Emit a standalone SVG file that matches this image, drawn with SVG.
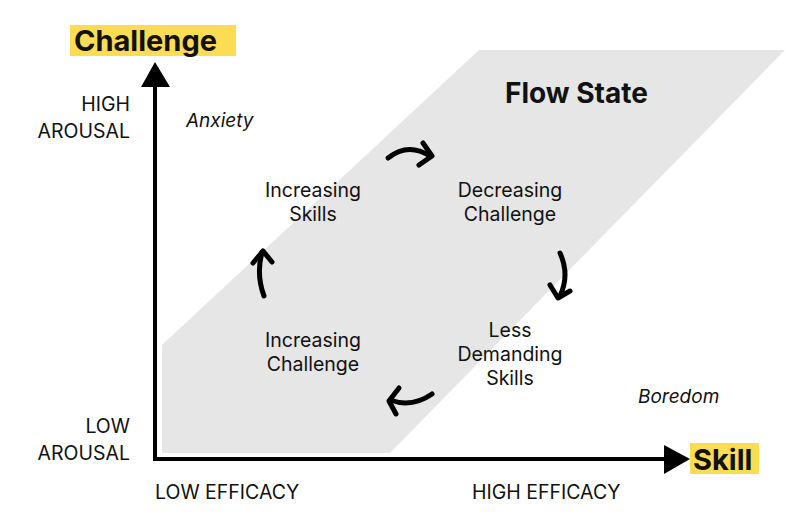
<svg xmlns="http://www.w3.org/2000/svg" width="812" height="521" viewBox="0 0 812 521">
<style>
text{font-family:Inter,"Noto Sans",sans-serif;fill:#111}
.l{font-size:19.5px}
.n{font-size:19.5px;text-anchor:middle}
.it{font-size:19px;font-style:italic}
.h{font-size:29px;font-weight:700}
.c{fill:none;stroke:#000;stroke-width:5;stroke-linecap:round;stroke-linejoin:round}
</style>
<rect width="812" height="521" fill="#fff"/>
<polygon points="479,50 785,50 390,453 162,453 162,345" fill="#e6e6e6"/>
<g id="axes">
<line x1="155" y1="80" x2="155" y2="460" stroke="#000" stroke-width="4"/>
<polygon points="155,62 170,87 141,87" fill="#000"/>
<line x1="153" y1="459" x2="668" y2="459" stroke="#000" stroke-width="4"/>
<polygon points="690,459 664,445 664,474" fill="#000"/>
</g>
<g id="title-challenge"><rect x="70" y="25" width="166" height="31" fill="#fbdc52"/><text class="h" x="74" y="51">Challenge</text></g>
<g id="title-skill"><rect x="690" y="443" width="69" height="31" fill="#fbdc52"/><text class="h" x="693" y="470">Skill</text></g>
<g id="labels">
<text class="l" x="130" y="111" text-anchor="end">HIGH</text>
<text class="l" x="130" y="138" text-anchor="end">AROUSAL</text>
<text class="l" x="130" y="433" text-anchor="end">LOW</text>
<text class="l" x="130" y="460" text-anchor="end">AROUSAL</text>
<text class="l" x="155" y="499">LOW EFFICACY</text>
<text class="l" x="472" y="499">HIGH EFFICACY</text>
<text class="it" x="186" y="127">Anxiety</text>
<text class="it" x="638" y="403">Boredom</text>
<text x="505" y="103" font-size="28" font-weight="700">Flow State</text>
</g>
<g id="node-increasing-skills"><text class="n" x="313" y="197">Increasing</text><text class="n" x="313" y="221">Skills</text></g>
<g id="node-decreasing-challenge"><text class="n" x="510" y="197">Decreasing</text><text class="n" x="510" y="221">Challenge</text></g>
<g id="node-less-demanding"><text class="n" x="510" y="337">Less</text><text class="n" x="510" y="361">Demanding</text><text class="n" x="510" y="385">Skills</text></g>
<g id="node-increasing-challenge"><text class="n" x="313" y="347">Increasing</text><text class="n" x="313" y="371">Challenge</text></g>
<g id="connectors">
<path class="c" d="M388,158 Q408,142 430,156"/><path class="c" d="M423,143 L432,156 L419,165"/>
<path class="c" d="M560,253 Q570,275 560,296"/><path class="c" d="M550,285 L558,298 L570,291"/>
<path class="c" d="M432,394 Q412,408 390,400"/><path class="c" d="M399,388 L389,401 L396,414"/>
<path class="c" d="M264,296 Q256,275 262,252"/><path class="c" d="M253,263 L263,251 L272,262"/>
</g>
</svg>
